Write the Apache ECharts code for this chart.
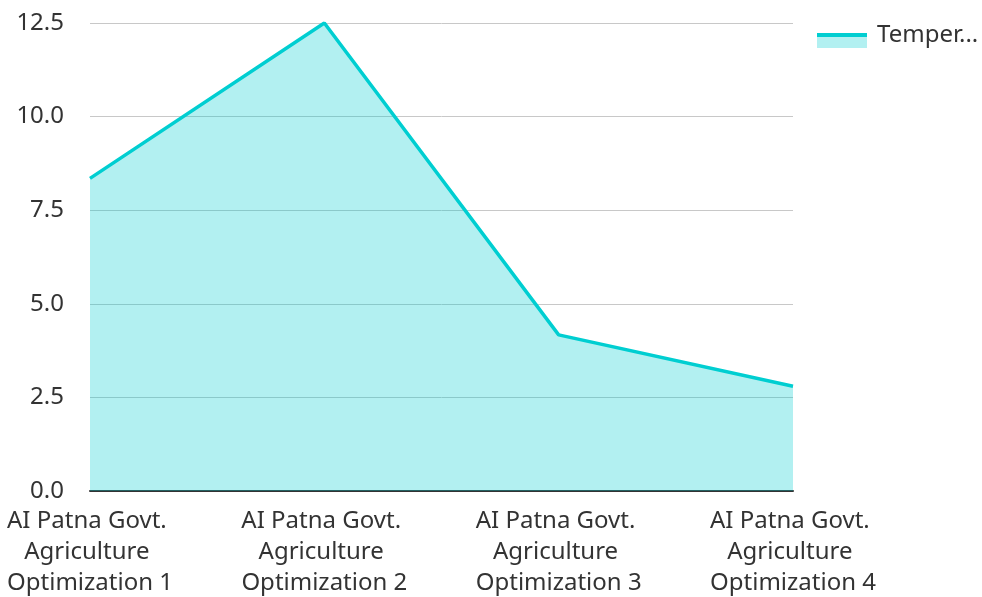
<!DOCTYPE html>
<html><head><meta charset="utf-8">
<script src="https://cdn.jsdelivr.net/npm/echarts@6/dist/echarts.min.js"></script>
<style>html,body{margin:0;padding:0;background:#fff}#c{width:982px;height:597px}</style>
</head><body><div id="c"></div>
<script>
const categories = ["AI Patna Govt. Agriculture Optimization 1","AI Patna Govt. Agriculture Optimization 2","AI Patna Govt. Agriculture Optimization 3","AI Patna Govt. Agriculture Optimization 4"];
const seriesName = "Temperature";
const values = [8.35, 12.5, 4.17, 2.8];
const yMin = 0, yMax = 12.5, yStep = 2.5;

const font = "'Noto Sans', 'Open Sans', sans-serif";
const chart = echarts.init(document.getElementById('c'));
chart.setOption({
  animation: false,
  grid: {left: 90, right: 189, top: 23, bottom: 106, containLabel: false, outerBoundsMode: 'none'},
  legend: [
    {data:[seriesName], left: 817, top: 37, padding:0, orient:'vertical', icon:'rect', itemWidth: 50, itemHeight: 11,
     itemStyle:{color:'#b2f0f1'}, selectedMode:false, formatter: function(){return '';},
     textStyle:{fontFamily:font, fontSize:11, lineHeight:11}},
    {data:[seriesName], left: 817, top: 23, padding:0, orient:'vertical', icon:'rect', itemWidth: 50, itemHeight: 4,
     itemStyle:{color:'#00ced1'}, selectedMode:false,
     textStyle:{fontFamily:font, fontSize:24, color:'#333', width:110, overflow:'truncate', ellipsis:'...', padding:[0,0,0,5]}}
  ],
  xAxis: {
    type:'category', data: categories, boundaryGap:false,
    axisLine:{lineStyle:{color:'#333', width:2}}, axisTick:{show:false},
    axisLabel:{fontFamily:font, fontSize:24, color:'#333', lineHeight:30.8, margin:15, interval:0,
      width:190, overflow:'break'}
  },
  yAxis: {
    type:'value', min:yMin, max:yMax, interval:yStep,
    axisLine:{show:false}, axisTick:{show:false},
    splitLine:{lineStyle:{color:'#c8c8c8', width:1}},
    axisLabel:{fontFamily:font, fontSize:24, color:'#333', margin:26,
      formatter: v => v.toFixed(1)}
  },
  series: [{
    name: seriesName, type:'line', data: values, symbol:'none',
    lineStyle:{color:'#00ced1', width:3.5},
    itemStyle:{color:'#00ced1'},
    areaStyle:{color:'#00ced1', opacity:0.3}
  }]
});
</script></body></html>
